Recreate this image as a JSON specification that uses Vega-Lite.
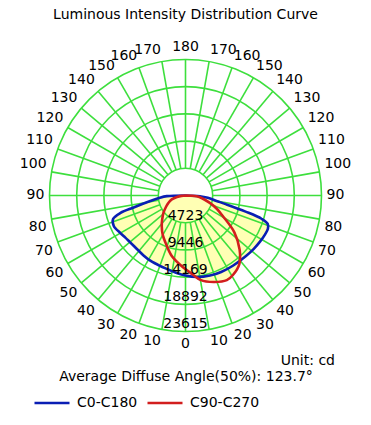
{
  "$schema": "https://vega.github.io/schema/vega-lite/v6.json",
  "width": 371,
  "height": 397,
  "autosize": {"type": "none"},
  "padding": {"top": 28, "left": 0, "right": 0, "bottom": 0},
  "background": "white",
  "title": {"text": "Luminous Intensity Distribution Curve", "fontSize": 14, "font": "DejaVu Sans", "fontWeight": "normal", "color": "black", "anchor": "middle", "frame": "group", "offset": 6},
  "config": {
    "view": {"stroke": null},
    "font": "DejaVu Sans",
    "legend": {"orient": "none", "legendX": 33, "legendY": 356, "direction": "horizontal", "symbolType": "stroke", "symbolSize": 1225, "symbolStrokeWidth": 2.6, "labelFontSize": 14, "labelFont": "DejaVu Sans", "labelColor": "black", "labelOffset": 6, "columnPadding": 4, "padding": 0}
  },
  "datasets": {
    "curves": [
      {"plane": "C0-C180", "angle": -90, "cd": 0},
      {"plane": "C0-C180", "angle": -88, "cd": 3240},
      {"plane": "C0-C180", "angle": -85, "cd": 4500},
      {"plane": "C0-C180", "angle": -81, "cd": 6200},
      {"plane": "C0-C180", "angle": -77, "cd": 9240},
      {"plane": "C0-C180", "angle": -75, "cd": 11680},
      {"plane": "C0-C180", "angle": -72, "cd": 13220},
      {"plane": "C0-C180", "angle": -67, "cd": 13530},
      {"plane": "C0-C180", "angle": -60, "cd": 13050},
      {"plane": "C0-C180", "angle": -55, "cd": 12750},
      {"plane": "C0-C180", "angle": -50, "cd": 12600},
      {"plane": "C0-C180", "angle": -42, "cd": 12550},
      {"plane": "C0-C180", "angle": -35, "cd": 12700},
      {"plane": "C0-C180", "angle": -28, "cd": 12870},
      {"plane": "C0-C180", "angle": -20, "cd": 13000},
      {"plane": "C0-C180", "angle": -14, "cd": 13160},
      {"plane": "C0-C180", "angle": -7, "cd": 13500},
      {"plane": "C0-C180", "angle": 0, "cd": 13900},
      {"plane": "C0-C180", "angle": 8, "cd": 14300},
      {"plane": "C0-C180", "angle": 17, "cd": 14540},
      {"plane": "C0-C180", "angle": 25, "cd": 14650},
      {"plane": "C0-C180", "angle": 34, "cd": 14710},
      {"plane": "C0-C180", "angle": 45, "cd": 14860},
      {"plane": "C0-C180", "angle": 52, "cd": 15050},
      {"plane": "C0-C180", "angle": 58, "cd": 15210},
      {"plane": "C0-C180", "angle": 64, "cd": 15380},
      {"plane": "C0-C180", "angle": 68, "cd": 15430},
      {"plane": "C0-C180", "angle": 71, "cd": 15100},
      {"plane": "C0-C180", "angle": 73, "cd": 13800},
      {"plane": "C0-C180", "angle": 75, "cd": 10800},
      {"plane": "C0-C180", "angle": 78, "cd": 7000},
      {"plane": "C0-C180", "angle": 80, "cd": 5470},
      {"plane": "C0-C180", "angle": 84, "cd": 3900},
      {"plane": "C0-C180", "angle": 87, "cd": 2500},
      {"plane": "C0-C180", "angle": 90, "cd": 0},
      {"plane": "C90-C270", "angle": -90, "cd": 0},
      {"plane": "C90-C270", "angle": -85, "cd": 700},
      {"plane": "C90-C270", "angle": -80, "cd": 1500},
      {"plane": "C90-C270", "angle": -74, "cd": 2480},
      {"plane": "C90-C270", "angle": -67, "cd": 3200},
      {"plane": "C90-C270", "angle": -60, "cd": 3900},
      {"plane": "C90-C270", "angle": -52, "cd": 4850},
      {"plane": "C90-C270", "angle": -45, "cd": 5700},
      {"plane": "C90-C270", "angle": -38, "cd": 6700},
      {"plane": "C90-C270", "angle": -30, "cd": 7900},
      {"plane": "C90-C270", "angle": -23, "cd": 8890},
      {"plane": "C90-C270", "angle": -13, "cd": 10730},
      {"plane": "C90-C270", "angle": -2, "cd": 12470},
      {"plane": "C90-C270", "angle": 5, "cd": 13700},
      {"plane": "C90-C270", "angle": 10, "cd": 14870},
      {"plane": "C90-C270", "angle": 18, "cd": 15800},
      {"plane": "C90-C270", "angle": 26, "cd": 16360},
      {"plane": "C90-C270", "angle": 31, "cd": 16050},
      {"plane": "C90-C270", "angle": 38, "cd": 15160},
      {"plane": "C90-C270", "angle": 45, "cd": 13290},
      {"plane": "C90-C270", "angle": 53, "cd": 10620},
      {"plane": "C90-C270", "angle": 61, "cd": 7430},
      {"plane": "C90-C270", "angle": 67, "cd": 5900},
      {"plane": "C90-C270", "angle": 73, "cd": 4410},
      {"plane": "C90-C270", "angle": 80, "cd": 3000},
      {"plane": "C90-C270", "angle": 86, "cd": 1930},
      {"plane": "C90-C270", "angle": 90, "cd": 0}
    ],
    "rings": [
      {"r": 4723, "label": "4723"},
      {"r": 9446, "label": "9446"},
      {"r": 14169, "label": "14169"},
      {"r": 18892, "label": "18892"},
      {"r": 23615, "label": "23615"}
    ],
    "spokes": [
      {"angle": 0}, {"angle": 10}, {"angle": 20}, {"angle": 30}, {"angle": 40}, {"angle": 50},
      {"angle": 60}, {"angle": 70}, {"angle": 80}, {"angle": 90}, {"angle": 100}, {"angle": 110},
      {"angle": 120}, {"angle": 130}, {"angle": 140}, {"angle": 150}, {"angle": 160}, {"angle": 170},
      {"angle": 180}, {"angle": 190}, {"angle": 200}, {"angle": 210}, {"angle": 220}, {"angle": 230},
      {"angle": 240}, {"angle": 250}, {"angle": 260}, {"angle": 270}, {"angle": 280}, {"angle": 290},
      {"angle": 300}, {"angle": 310}, {"angle": 320}, {"angle": 330}, {"angle": 340}, {"angle": 350}
    ],
    "angleLabels": [
      {"angle": 0, "label": "0"},
      {"angle": 10, "label": "10"}, {"angle": -10, "label": "10"},
      {"angle": 20, "label": "20"}, {"angle": -20, "label": "20"},
      {"angle": 30, "label": "30"}, {"angle": -30, "label": "30"},
      {"angle": 40, "label": "40"}, {"angle": -40, "label": "40"},
      {"angle": 50, "label": "50"}, {"angle": -50, "label": "50"},
      {"angle": 60, "label": "60"}, {"angle": -60, "label": "60"},
      {"angle": 70, "label": "70"}, {"angle": -70, "label": "70"},
      {"angle": 80, "label": "80"}, {"angle": -80, "label": "80"},
      {"angle": 90, "label": "90"}, {"angle": -90, "label": "90"},
      {"angle": 100, "label": "100"}, {"angle": -100, "label": "100"},
      {"angle": 110, "label": "110"}, {"angle": -110, "label": "110"},
      {"angle": 120, "label": "120"}, {"angle": -120, "label": "120"},
      {"angle": 130, "label": "130"}, {"angle": -130, "label": "130"},
      {"angle": 140, "label": "140"}, {"angle": -140, "label": "140"},
      {"angle": 150, "label": "150"}, {"angle": -150, "label": "150"},
      {"angle": 160, "label": "160"}, {"angle": -160, "label": "160"},
      {"angle": 170, "label": "170"}, {"angle": -170, "label": "170"},
      {"angle": 180, "label": "180"}
    ],
    "notes": [
      {"text": "Unit: cd", "x": 25959, "y": 28737, "anchor": "right"},
      {"text": "Average Diffuse Angle(50%): 123.7°", "x": 87, "y": 31516, "anchor": "center"}
    ]
  },
  "layer": [
    {
      "data": {"name": "curves"},
      "transform": [
        {"calculate": "datum.cd * sin(datum.angle * PI / 180)", "as": "x"},
        {"calculate": "datum.cd * cos(datum.angle * PI / 180)", "as": "y"}
      ],
      "mark": {"type": "line", "fill": "#ffffb4", "strokeOpacity": 0, "interpolate": "catmull-rom"},
      "encoding": {
        "x": {"field": "x", "type": "quantitative", "scale": {"domain": [-32210, 32210], "nice": false, "zero": false}, "axis": null},
        "y": {"field": "y", "type": "quantitative", "scale": {"domain": [-29085, 39851], "reverse": true, "nice": false, "zero": false}, "axis": null},
        "detail": {"field": "plane", "type": "nominal"},
        "order": {"field": "angle", "type": "quantitative"}
      }
    },
    {
      "data": {"name": "rings"},
      "mark": {"type": "point", "shape": "circle", "filled": false, "color": "#3ddf3d", "strokeWidth": 1.6, "opacity": 1},
      "encoding": {
        "x": {"datum": 0, "type": "quantitative"},
        "y": {"datum": 0, "type": "quantitative"},
        "size": {"field": "r", "type": "quantitative", "scale": {"type": "pow", "exponent": 2, "domain": [0, 23615], "range": [0, 73984]}, "legend": null}
      }
    },
    {
      "data": {"name": "spokes"},
      "transform": [
        {"calculate": "4723 * sin(datum.angle * PI / 180)", "as": "x1"},
        {"calculate": "4723 * cos(datum.angle * PI / 180)", "as": "y1"},
        {"calculate": "23615 * sin(datum.angle * PI / 180)", "as": "x2"},
        {"calculate": "23615 * cos(datum.angle * PI / 180)", "as": "y2"}
      ],
      "mark": {"type": "rule", "color": "#3ddf3d", "strokeWidth": 1.6},
      "encoding": {
        "x": {"field": "x1", "type": "quantitative"},
        "y": {"field": "y1", "type": "quantitative"},
        "x2": {"field": "x2"},
        "y2": {"field": "y2"}
      }
    },
    {
      "mark": {"type": "rule", "color": "#3ddf3d", "strokeWidth": 1.6},
      "encoding": {
        "x": {"datum": 0, "type": "quantitative"},
        "y": {"datum": -23615, "type": "quantitative"},
        "y2": {"datum": 23615}
      }
    },
    {
      "data": {"name": "curves"},
      "transform": [
        {"calculate": "datum.cd * sin(datum.angle * PI / 180)", "as": "x"},
        {"calculate": "datum.cd * cos(datum.angle * PI / 180)", "as": "y"}
      ],
      "mark": {"type": "line", "strokeWidth": 2.6, "interpolate": "catmull-rom"},
      "encoding": {
        "x": {"field": "x", "type": "quantitative"},
        "y": {"field": "y", "type": "quantitative"},
        "color": {"field": "plane", "type": "nominal", "scale": {"domain": ["C0-C180", "C90-C270"], "range": ["#0a1eb4", "#d21e1e"]}, "legend": {"title": null}},
        "order": {"field": "angle", "type": "quantitative"}
      }
    },
    {
      "data": {"name": "rings"},
      "mark": {"type": "text", "fontSize": 14, "font": "DejaVu Sans", "color": "black", "baseline": "alphabetic", "dy": -3},
      "encoding": {
        "x": {"datum": 0, "type": "quantitative"},
        "y": {"field": "r", "type": "quantitative"},
        "text": {"field": "label", "type": "nominal"}
      }
    },
    {
      "data": {"name": "angleLabels"},
      "transform": [
        {"calculate": "24500 * sin(datum.angle * PI / 180)", "as": "lx"},
        {"calculate": "24500 * cos(datum.angle * PI / 180)", "as": "ly"}
      ],
      "mark": {
        "type": "text", "fontSize": 14, "font": "DejaVu Sans", "color": "black",
        "align": {"expr": "datum.angle < 0 ? 'right' : (datum.angle > 0 && datum.angle < 180 ? 'left' : 'center')"},
        "baseline": {"expr": "abs(datum.angle) < 90 ? 'top' : (abs(datum.angle) > 90 ? 'bottom' : 'middle')"}
      },
      "encoding": {
        "x": {"field": "lx", "type": "quantitative"},
        "y": {"field": "ly", "type": "quantitative"},
        "text": {"field": "label", "type": "nominal"}
      }
    },
    {
      "data": {"name": "notes"},
      "mark": {"type": "text", "fontSize": 14, "font": "DejaVu Sans", "color": "black", "baseline": "middle", "align": {"expr": "datum.anchor"}},
      "encoding": {
        "x": {"field": "x", "type": "quantitative"},
        "y": {"field": "y", "type": "quantitative"},
        "text": {"field": "text", "type": "nominal"}
      }
    }
  ]
}
